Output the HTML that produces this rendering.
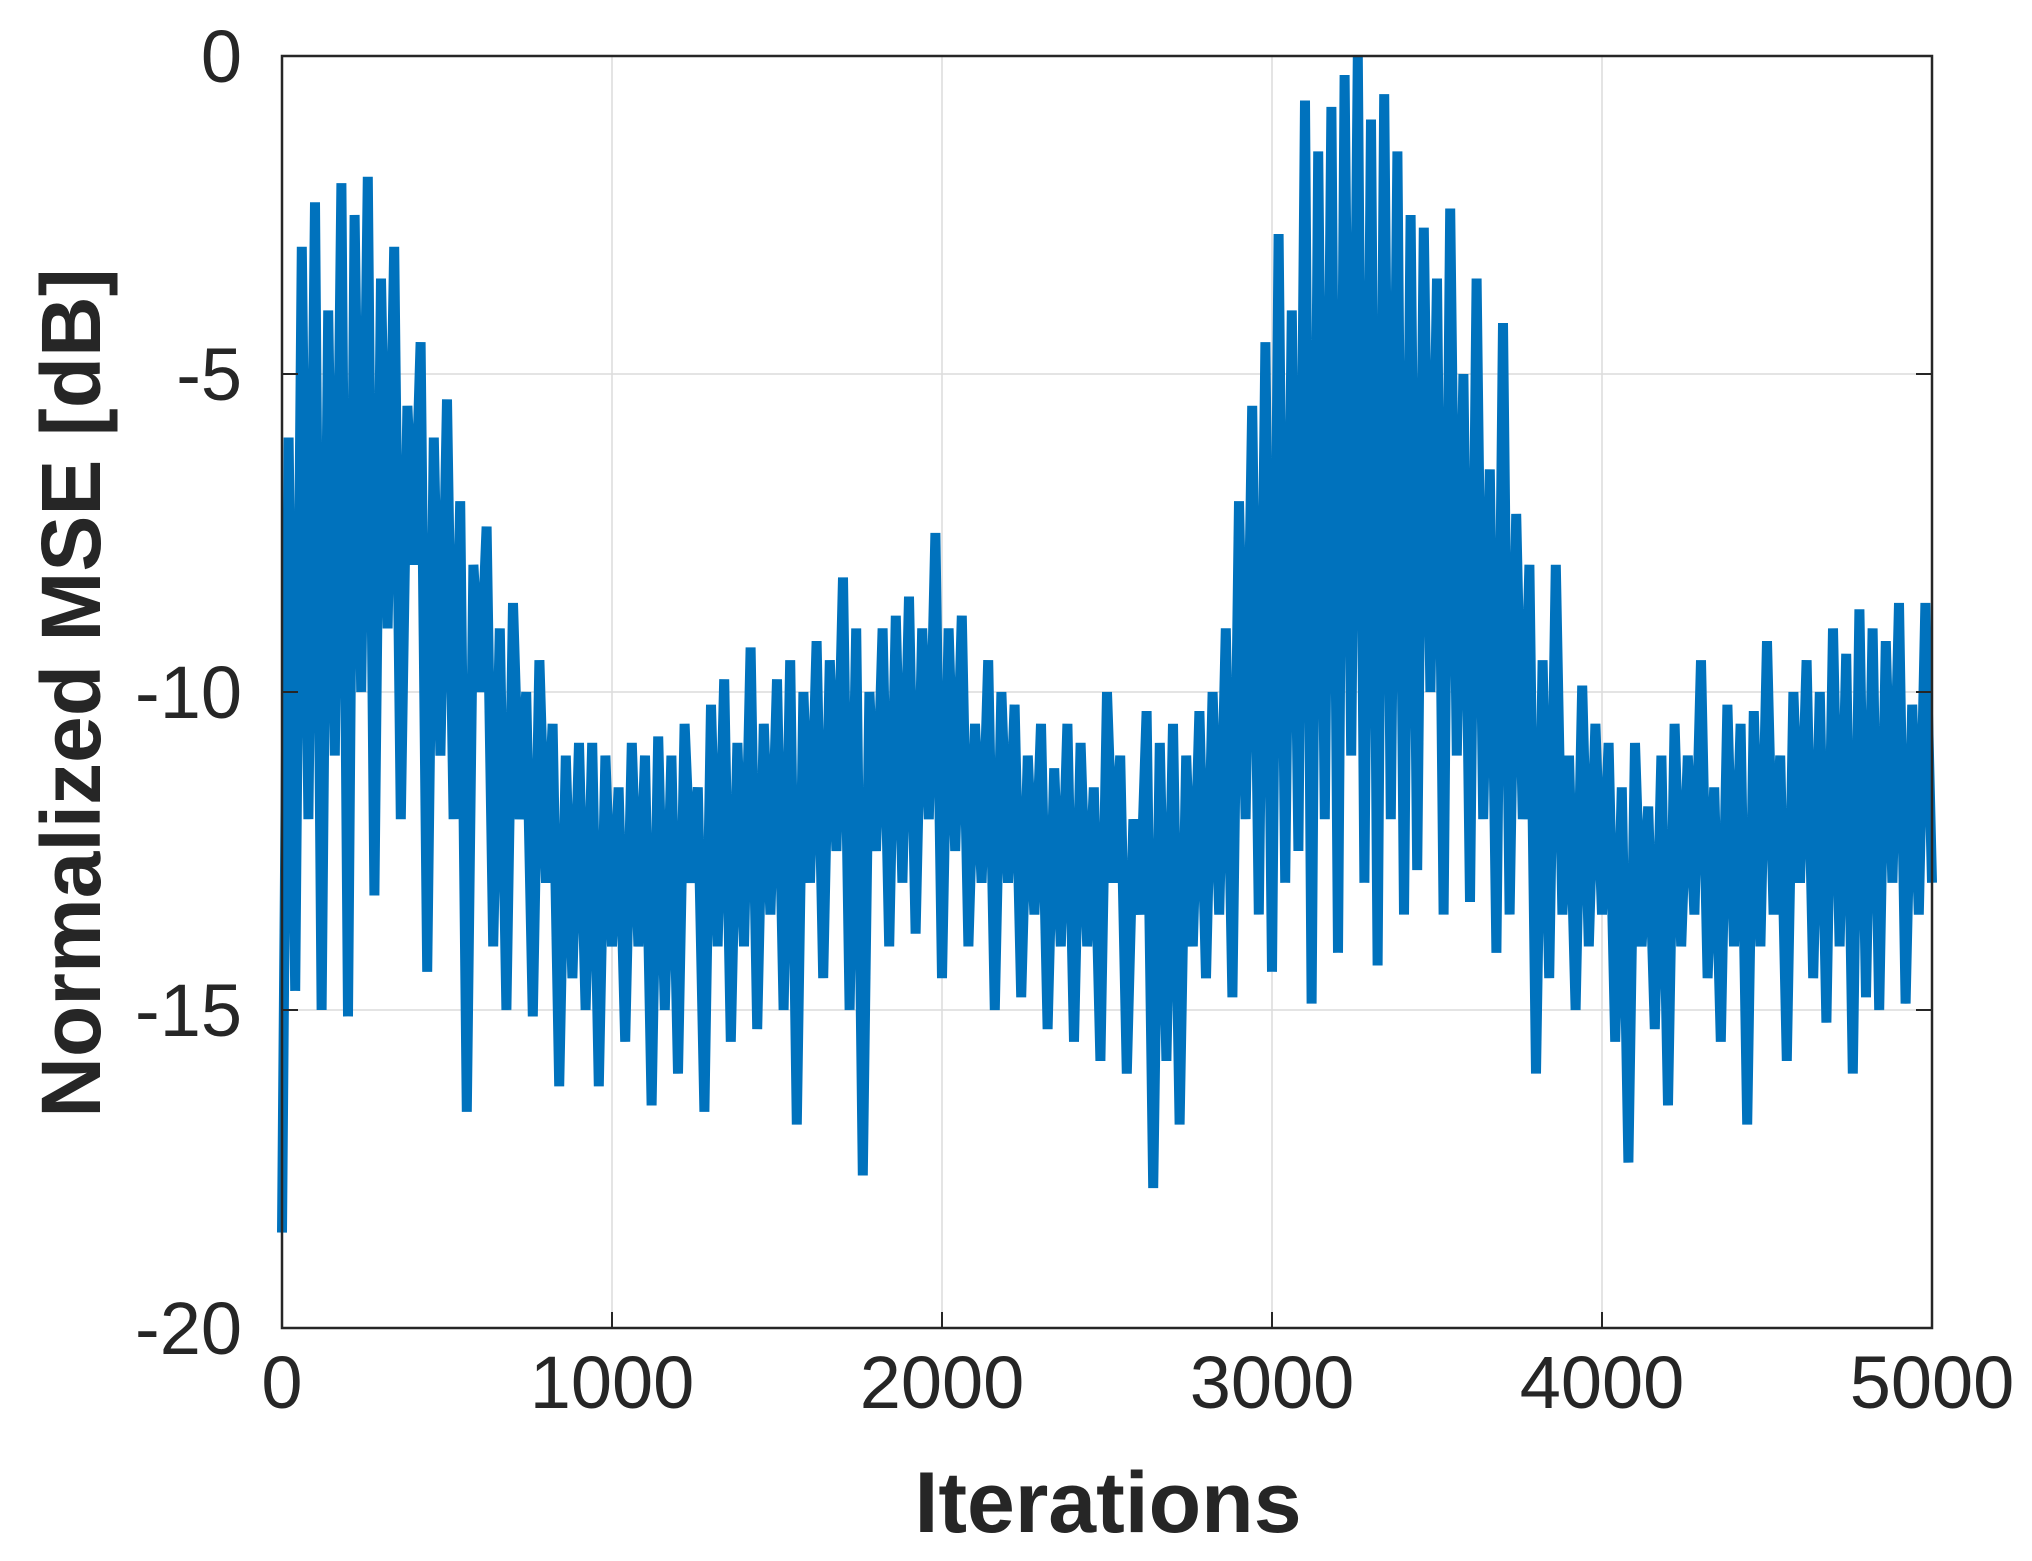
<!DOCTYPE html>
<html><head><meta charset="utf-8"><style>
body{margin:0;background:#fff;}
svg text{font-family:"Liberation Sans",sans-serif;fill:#262626;}
</style></head><body>
<svg id="chart" width="2032" height="1556" xmlns="http://www.w3.org/2000/svg">
<g id="grid"></g>
<g id="series"></g>
<g id="axes"></g>
<text x="1108" y="1532" font-size="86" font-weight="bold" text-anchor="middle">Iterations</text>
<text x="0" y="0" font-size="84" font-weight="bold" text-anchor="middle" transform="translate(100,693) rotate(-90)">Normalized MSE [dB]</text>
</svg>
<script>
const xTicks=[0,1000,2000,3000,4000,5000];
const yTicks=[0,-5,-10,-15,-20];
const iterStep=20;
const mse=[
-18.5,-6,-14.7,-3,-12,-2.3,-15,-4,-11,-2,
-15.1,-2.5,-10,-1.9,-13.2,-3.5,-9,-3,-12,-5.5,
-8,-4.5,-14.4,-6,-11,-5.4,-12,-7,-16.6,-8,
-10,-7.4,-14,-9,-15,-8.6,-12,-10,-15.1,-9.5,
-13,-10.5,-16.2,-11,-14.5,-10.8,-15,-10.8,-16.2,-11,
-14,-11.5,-15.5,-10.8,-14,-11,-16.5,-10.7,-15,-11,
-16,-10.5,-13,-11.5,-16.6,-10.2,-14,-9.8,-15.5,-10.8,
-14,-9.3,-15.3,-10.5,-13.5,-9.8,-15,-9.5,-16.8,-10,
-13,-9.2,-14.5,-9.5,-12.5,-8.2,-15,-9,-17.6,-10,
-12.5,-9,-14,-8.8,-13,-8.5,-13.8,-9,-12,-7.5,
-14.5,-9,-12.5,-8.8,-14,-10.5,-13,-9.5,-15,-10,
-13,-10.2,-14.8,-11,-13.5,-10.5,-15.3,-11.2,-14,-10.5,
-15.5,-10.8,-14,-11.5,-15.8,-10,-13,-11,-16,-12,
-13.5,-10.3,-17.8,-10.8,-15.8,-10.5,-16.8,-11,-14,-10.3,
-14.5,-10,-13.5,-9,-14.8,-7,-12,-5.5,-13.5,-4.5,
-14.4,-2.8,-13,-4,-12.5,-0.7,-14.9,-1.5,-12,-0.8,
-14.1,-0.3,-11,0,-13,-1,-14.3,-0.6,-12,-1.5,
-13.5,-2.5,-12.8,-2.7,-10,-3.5,-13.5,-2.4,-11,-5,
-13.3,-3.5,-12,-6.5,-14.1,-4.2,-13.5,-7.2,-12,-8,
-16,-9.5,-14.5,-8,-13.5,-11,-15,-9.9,-14,-10.5,
-13.5,-10.8,-15.5,-11.5,-17.4,-10.8,-14,-11.8,-15.3,-11,
-16.5,-10.5,-14,-11,-13.5,-9.5,-14.5,-11.5,-15.5,-10.2,
-14,-10.5,-16.8,-10.3,-14,-9.2,-13.5,-11,-15.8,-10,
-13,-9.5,-14.5,-10,-15.2,-9,-14,-9.4,-16,-8.7,
-14.8,-9,-15,-9.2,-13,-8.6,-14.9,-10.2,-13.5,-8.6,
-13
];
const L=282,R=1932,T=56,B=1328;
const xs=v=>L+(v-0)/(5000-0)*(R-L);
const ys=v=>T+(0-v)/(0-(-20))*(B-T);
const NS="http://www.w3.org/2000/svg";
function mk(tag,attrs,parent){const e=document.createElementNS(NS,tag);for(const k in attrs)e.setAttribute(k,attrs[k]);parent.appendChild(e);return e;}
const grid=document.getElementById('grid'),axes=document.getElementById('axes'),series=document.getElementById('series');
xTicks.forEach(t=>{
  const g=mk('line',{x1:xs(t),x2:xs(t),y1:T,y2:B,stroke:'#dcdcdc','stroke-width':1.5},grid);
  
  
  const tk=mk('line',{x1:xs(t),x2:xs(t),y1:B,y2:B-16,stroke:'#262626','stroke-width':2},axes);
  
  
  const tx=mk('text',{x:xs(t),y:1408,'font-size':74,'text-anchor':'middle'},axes);
  tx.textContent=t;
  
  
});
yTicks.forEach(t=>{
  const g=mk('line',{x1:L,x2:R,y1:ys(t),y2:ys(t),stroke:'#dcdcdc','stroke-width':1.5},grid);
  
  
  const tk=mk('line',{x1:L,x2:L+16,y1:ys(t),y2:ys(t),stroke:'#262626','stroke-width':2},axes);
  
  
  const tk2=mk('line',{x1:R,x2:R-16,y1:ys(t),y2:ys(t),stroke:'#262626','stroke-width':2},axes);
  
  
  const tx=mk('text',{x:242,y:ys(t)+26,'font-size':74,'text-anchor':'end'},axes);
  tx.textContent=t;
  
  
});
const frame=mk('rect',{x:L,y:T,width:R-L,height:B-T,fill:'none',stroke:'#262626','stroke-width':2.5},axes);


const pts=mse.map((v,i)=>xs(i*iterStep).toFixed(1)+','+ys(v).toFixed(1)).join(' ');
const line=mk('polyline',{points:pts,fill:'none',stroke:'#0072BD','stroke-width':10,'stroke-linejoin':'miter','stroke-miterlimit':2},series);


</script>
</body></html>
